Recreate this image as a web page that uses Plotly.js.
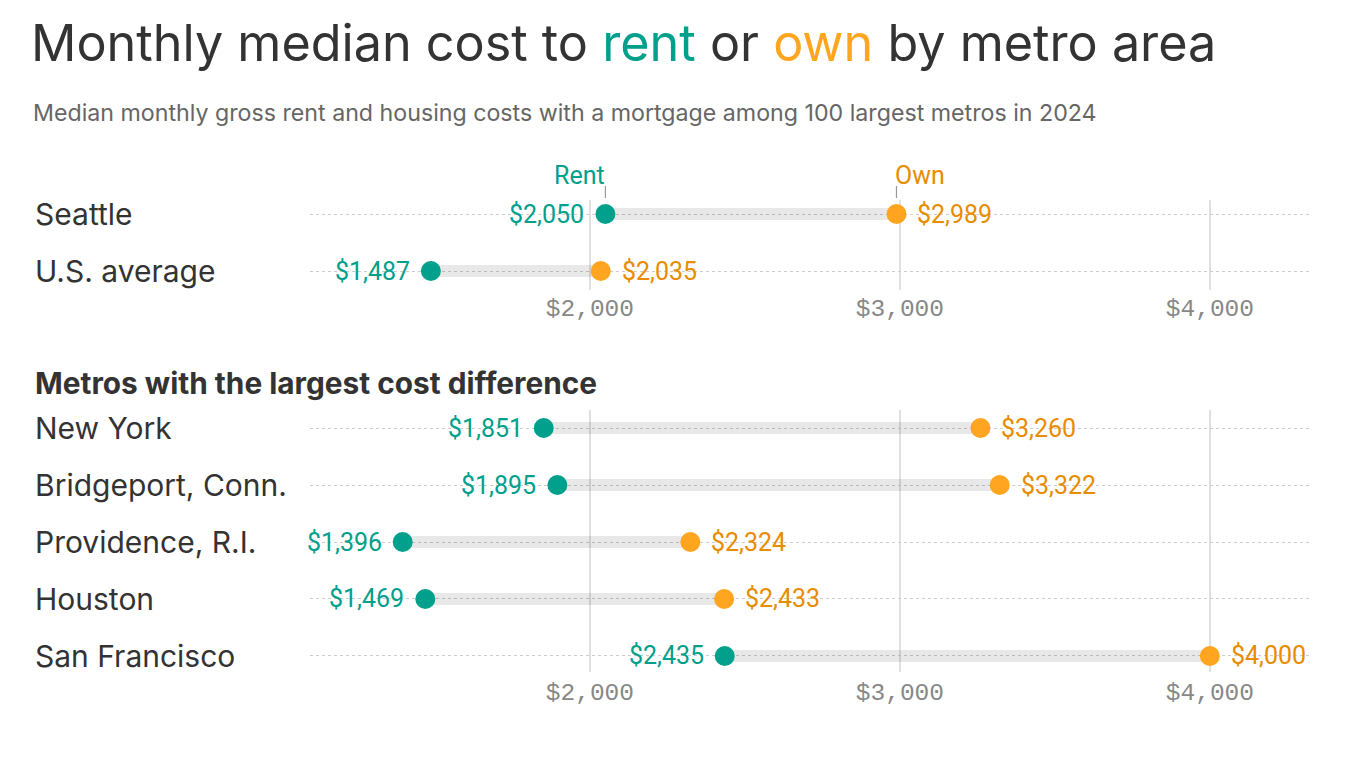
<!DOCTYPE html>
<html>
<head>
<meta charset="utf-8">
<script src="https://cdn.plot.ly/plotly-3.0.1.min.js"></script>
<style>html,body{margin:0;padding:0;background:#fff;}#chart{width:1366px;height:768px;}</style>
</head>
<body>
<div id="chart"></div>
<script>
// ---- data ----
const topCities = ["Seattle", "U.S. average"];
const topRent = [2050, 1487];
const topOwn = [2989, 2035];

const metros = ["New York", "Bridgeport, Conn.", "Providence, R.I.", "Houston", "San Francisco"];
const metroRent = [1851, 1895, 1396, 1469, 2435];
const metroOwn = [3260, 3322, 2324, 2433, 4000];

const tickValues = [2000, 3000, 4000];
const tickLabels = ["$2,000", "$3,000", "$4,000"];

// ---- styling ----
const TEAL = "#00a08c";
const TEAL_TXT = "#00a08c";
const ORANGE = "#ffa51f";
const ORANGE_TXT = "#e88c00";
const BAR = "rgba(0,0,0,0.09)";
const W = 1366, H = 768;
const px = v => v / W;
const py = v => 1 - v / H;
const fmt = v => "$" + v.toLocaleString("en-US");
const FONT = "Inter, 'Noto Sans', sans-serif";
const LABELFONT = "Roboto, 'Noto Sans', sans-serif";

function bars(cats, a, b, xa, ya) {
  const xs = [], ys = [];
  cats.forEach((c, i) => { xs.push(a[i], b[i], null); ys.push(c, c, null); });
  return {x: xs, y: ys, xaxis: xa, yaxis: ya, mode: "lines", type: "scatter",
    line: {color: BAR, width: 12}, hoverinfo: "skip", showlegend: false};
}
function dots(cats, vals, color, xa, ya) {
  return {x: vals, y: cats, xaxis: xa, yaxis: ya, mode: "markers", type: "scatter",
    marker: {color: color, size: 20}, cliponaxis: false,
    hoverinfo: "skip", showlegend: false};
}

const data = [
  bars(topCities, topRent, topOwn, "x", "y"),
  dots(topCities, topRent, TEAL, "x", "y"),
  dots(topCities, topOwn, ORANGE, "x", "y"),
  bars(metros, metroRent, metroOwn, "x2", "y2"),
  dots(metros, metroRent, TEAL, "x2", "y2"),
  dots(metros, metroOwn, ORANGE, "x2", "y2")
];

const xRange = [1097, 4323];
const xDomain = [px(310), px(1310)];
const xCommon = {
  range: xRange, domain: xDomain, tickvals: tickValues, ticktext: tickLabels,
  showgrid: true, gridcolor: "#e0e0e0", gridwidth: 1.5, zeroline: false, showline: false,
  ticks: "",
  tickfont: {family: "'Liberation Mono', 'DejaVu Sans Mono', monospace", size: 24.5, color: "#888"},
  fixedrange: true
};
const yCommon = {
  type: "category", showgrid: true, gridcolor: "#cccccc", griddash: "dot", gridwidth: 1,
  showticklabels: false, zeroline: false, showline: false, ticks: "", fixedrange: true
};

const annotations = [];
function rowLabels(cats, yref) {
  cats.forEach(c => annotations.push({xref: "paper", yref: yref, x: px(33), y: c, text: c,
    xanchor: "left", yanchor: "middle", showarrow: false, font: {family: FONT, size: 30, color: "#333"}}));
}
function valueLabels(cats, vals, yref, xref, color, side) {
  cats.forEach((c, i) => annotations.push({xref: xref, yref: yref, x: vals[i], y: c, text: fmt(vals[i]),
    xanchor: side < 0 ? "right" : "left", xshift: side * 19, yanchor: "middle", showarrow: false,
    font: {family: LABELFONT, size: 25, color: color}}));
}
rowLabels(topCities, "y");
rowLabels(metros, "y2");
valueLabels(topCities, topRent, "y", "x", TEAL_TXT, -1);
valueLabels(topCities, topOwn, "y", "x", ORANGE_TXT, 1);
valueLabels(metros, metroRent, "y2", "x2", TEAL_TXT, -1);
valueLabels(metros, metroOwn, "y2", "x2", ORANGE_TXT, 1);

annotations.push({xref: "paper", yref: "paper", x: px(31), y: py(113), text: "Median monthly gross rent and housing costs with a mortgage among 100 largest metros in 2024",
  xanchor: "left", yanchor: "middle", showarrow: false, font: {family: FONT, size: 23.2, color: "#666"}});
annotations.push({xref: "paper", yref: "paper", x: px(33), y: py(383), text: "<b>Metros with the largest cost difference</b>",
  xanchor: "left", yanchor: "middle", showarrow: false, font: {family: FONT, size: 29.8, color: "#333"}});
annotations.push({xref: "x", yref: "paper", x: topRent[0], y: py(175), text: "Rent",
  xanchor: "right", yanchor: "middle", xshift: 2, showarrow: false, font: {family: LABELFONT, size: 25, color: TEAL_TXT}});
annotations.push({xref: "x", yref: "paper", x: topOwn[0], y: py(175), text: "Own",
  xanchor: "left", yanchor: "middle", xshift: -3, showarrow: false, font: {family: LABELFONT, size: 25, color: ORANGE_TXT}});

const shapes = [
  {type: "line", xref: "x", yref: "paper", x0: topRent[0], x1: topRent[0], y0: py(186), y1: py(198), line: {color: "#999", width: 1.2}},
  {type: "line", xref: "x", yref: "paper", x0: topOwn[0], x1: topOwn[0], y0: py(186), y1: py(198), line: {color: "#999", width: 1.2}}
];

const layout = {
  width: W, height: H, margin: {l: 0, r: 0, t: 0, b: 0},
  paper_bgcolor: "#fff", plot_bgcolor: "#fff",
  title: {
    text: "Monthly median cost to <span style='color:" + TEAL + "'>rent</span> or <span style='color:" + ORANGE + "'>own</span> by metro area",
    x: px(31), xanchor: "left", xref: "paper", y: py(43), yanchor: "middle", yref: "container",
    font: {family: FONT, size: 50.3, color: "#333"}
  },
  xaxis: Object.assign({}, xCommon, {anchor: "y", ticklabelstandoff: 0}),
  xaxis2: Object.assign({}, xCommon, {anchor: "y2", ticklabelstandoff: 2}),
  yaxis: Object.assign({}, yCommon, {domain: [py(290), py(200)], range: [1.333, -0.2456], anchor: "x"}),
  yaxis2: Object.assign({}, yCommon, {domain: [py(672), py(410)], range: [4.281, -0.316], anchor: "x2"}),
  annotations: annotations, shapes: shapes, showlegend: false
};

Plotly.newPlot("chart", data, layout, {displayModeBar: false, staticPlot: true});
</script>
</body>
</html>
